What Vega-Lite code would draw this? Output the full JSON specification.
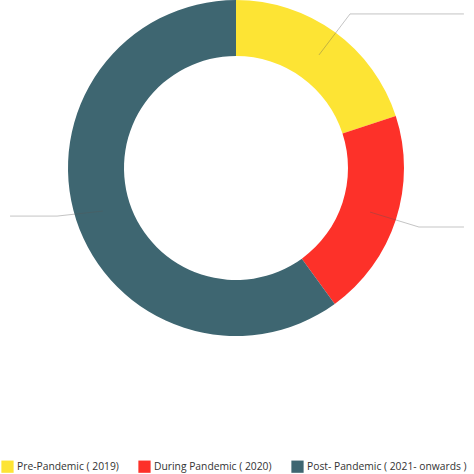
{
  "$schema": "https://vega.github.io/schema/vega-lite/v6.json",
  "autosize": {"type": "fit", "contains": "padding"},
  "width": 474,
  "height": 474,
  "padding": 0,
  "background": "white",
  "config": {"view": {"stroke": null}},
  "datasets": {
    "shares": [
      {"period": "Pre-Pandemic ( 2019)", "share": 20, "rank": 1},
      {"period": "During Pandemic ( 2020)", "share": 20, "rank": 2},
      {"period": "Post- Pandemic ( 2021- onwards )", "share": 60, "rank": 3}
    ],
    "leaders": [
      {"period": "Pre-Pandemic ( 2019)", "i": 1, "x": 0.494, "y": 0.673},
      {"period": "Pre-Pandemic ( 2019)", "i": 2, "x": 0.679, "y": 0.917},
      {"period": "Pre-Pandemic ( 2019)", "i": 3, "x": 1.357, "y": 0.917},
      {"period": "During Pandemic ( 2020)", "i": 1, "x": 0.798, "y": -0.262},
      {"period": "During Pandemic ( 2020)", "i": 2, "x": 1.089, "y": -0.351},
      {"period": "During Pandemic ( 2020)", "i": 3, "x": 1.357, "y": -0.351},
      {"period": "Post- Pandemic ( 2021- onwards )", "i": 1, "x": -0.792, "y": -0.256},
      {"period": "Post- Pandemic ( 2021- onwards )", "i": 2, "x": -1.065, "y": -0.286},
      {"period": "Post- Pandemic ( 2021- onwards )", "i": 3, "x": -1.345, "y": -0.286}
    ]
  },
  "layer": [
    {
      "data": {"name": "shares"},
      "mark": {"type": "arc", "outerRadius": 168, "innerRadius": 112},
      "encoding": {
        "x": {"datum": 0, "type": "quantitative", "scale": {"domain": [-1.405, 1.417], "nice": false, "zero": false}, "axis": null},
        "y": {"datum": 0, "type": "quantitative", "scale": {"domain": [-1.821, 1], "nice": false, "zero": false}, "axis": null},
        "theta": {"field": "share", "type": "quantitative", "stack": true},
        "order": {"field": "rank"},
        "color": {
          "field": "period",
          "type": "nominal",
          "sort": ["Pre-Pandemic ( 2019)", "During Pandemic ( 2020)", "Post- Pandemic ( 2021- onwards )"],
          "scale": {
            "domain": ["Pre-Pandemic ( 2019)", "During Pandemic ( 2020)", "Post- Pandemic ( 2021- onwards )"],
            "range": ["#FDE434", "#FD3129", "#3E6671"]
          },
          "legend": {
            "title": null,
            "orient": "bottom-left",
            "direction": "horizontal",
            "offset": 1,
            "symbolType": "square",
            "symbolSize": 150,
            "symbolStrokeWidth": 0,
            "symbolOpacity": 1,
            "labelFont": "Open Sans",
            "labelFontSize": 10.3,
            "labelColor": "#333333",
            "columnPadding": 19,
            "labelOffset": 3
          }
        }
      }
    },
    {
      "data": {"name": "leaders"},
      "mark": {"type": "line", "stroke": "#555555", "strokeOpacity": 0.35, "strokeWidth": 1},
      "encoding": {
        "x": {"field": "x", "type": "quantitative", "scale": {"domain": [-1.405, 1.417], "nice": false, "zero": false}, "axis": null},
        "y": {"field": "y", "type": "quantitative", "scale": {"domain": [-1.821, 1], "nice": false, "zero": false}, "axis": null},
        "detail": {"field": "period"},
        "order": {"field": "i"}
      }
    }
  ]
}
